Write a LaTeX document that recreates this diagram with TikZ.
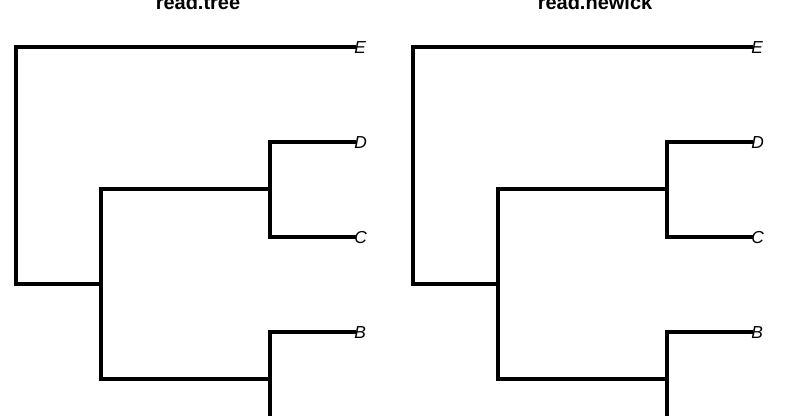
\documentclass[tikz,border=0pt]{standalone}
\usepackage{fontspec}
\setmainfont{Liberation Sans}
\begin{document}
\begin{tikzpicture}[x=0.75pt,y=-0.75pt]
\tikzstyle{branch} = [draw,line width=2.4pt]
\tikzstyle{tip} = [anchor=west,inner sep=0,font=\itshape\fontsize{13}{15}\selectfont]
\tikzstyle{title} = [anchor=base,inner sep=0,font=\bfseries\fontsize{15}{17}\selectfont]

\useasboundingbox (0,0) rectangle (794,416);

\foreach \t/\dx/\name in {tree/0/read.tree, newick/397/read.newick} {
  \begin{scope}[xshift=\dx*0.75pt]
  \node [title] (\t-title) at (198,10) {\name};

  % internal nodes
  \coordinate (\t-root) at (16,284);
  \coordinate (\t-abcd) at (101,284);
  \coordinate (\t-cd) at (270,189);
  \coordinate (\t-ab) at (270,379);

  % tips
  \coordinate (\t-E) at (356,47);
  \coordinate (\t-D) at (356,142);
  \coordinate (\t-C) at (356,237);
  \coordinate (\t-B) at (356,332);
  \coordinate (\t-A) at (356,427);
  \foreach \l in {E,D,C,B}
    \node [tip] at ([xshift=-1.5pt,yshift=-0.5pt]\t-\l) {\l};

  \path[branch] (\t-E) -| (\t-root) -- (\t-abcd);
  \path[branch] (\t-cd) -| (\t-abcd |- \t-ab) -- (\t-ab);
  \path[branch] (\t-D) -| (\t-cd) |- (\t-C);
  \path[branch] (\t-B) -| (\t-ab) |- (\t-A);
  \end{scope}
}
\end{tikzpicture}
\end{document}
